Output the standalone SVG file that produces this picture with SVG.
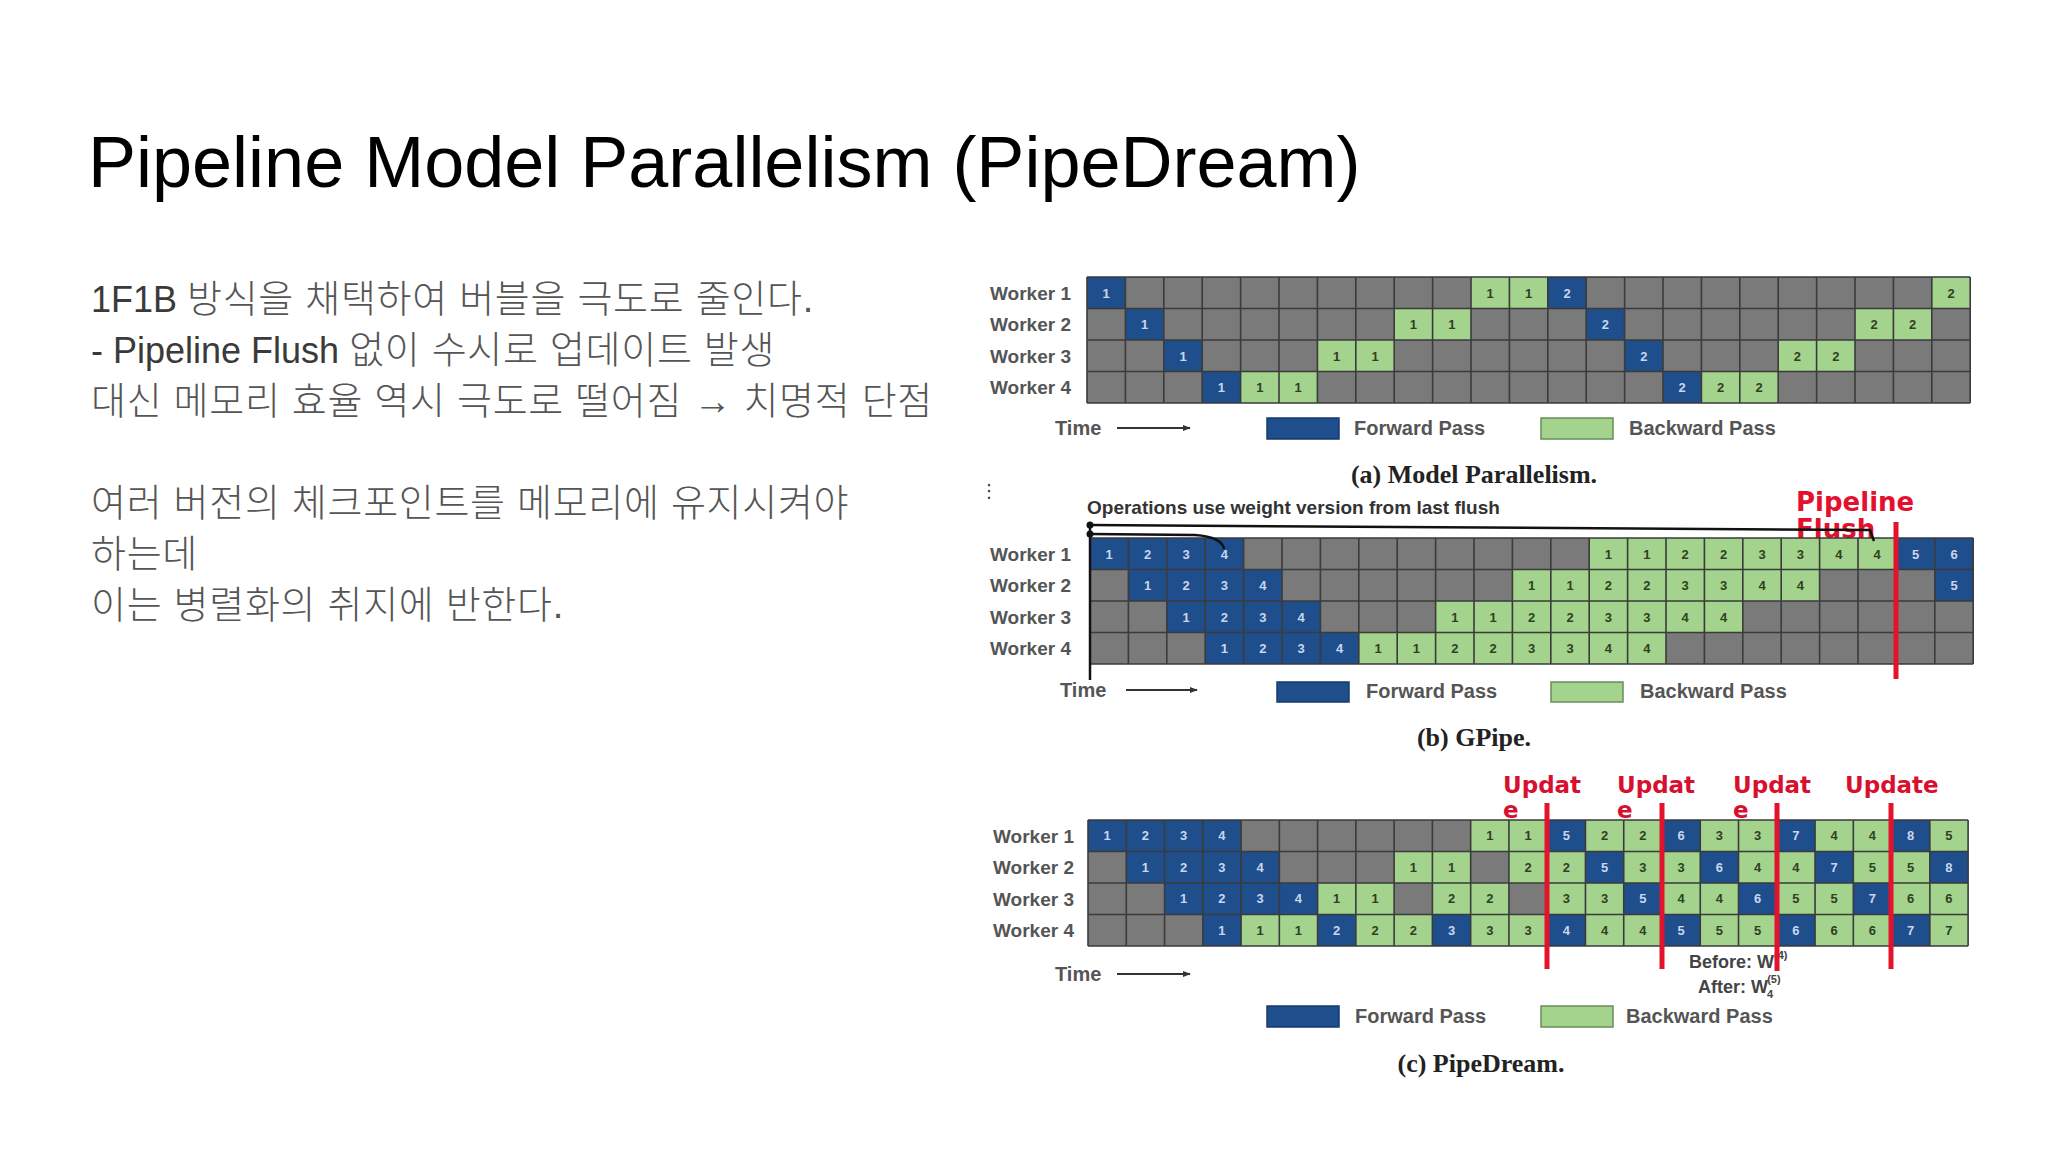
<svg xmlns="http://www.w3.org/2000/svg" xmlns:xlink="http://www.w3.org/1999/xlink" width="2048" height="1152" viewBox="0 0 2048 1152">
<style>
.f{fill:#1f4e8c}
.b{fill:#a3d38c}
.nf{font:bold 13px "Liberation Sans",Arial,sans-serif;fill:#c9d6ee;text-anchor:middle}
.nb{font:bold 13px "Liberation Sans",Arial,sans-serif;fill:#2f4024;text-anchor:middle}
.wk{font:bold 19px "Liberation Sans",Arial,sans-serif;fill:#555}
.lg{font:bold 20px "Liberation Sans",Arial,sans-serif;fill:#555}
.lf{fill:#1f4e8c;stroke:#173b6b;stroke-width:1.5}
.lb{fill:#a3d38c;stroke:#6a8c58;stroke-width:1.5}
.cap{font:bold 26px "Liberation Serif","Times New Roman",serif;fill:#222;text-anchor:middle}
.red{stroke:#e3122d;stroke-width:5}
.rt{font:bold 23px "DejaVu Sans",sans-serif;fill:#d8102f}
.rt2{font:bold 26px "DejaVu Sans",sans-serif;fill:#e3102e}
.kr{font-family:"Liberation Sans","Noto Sans CJK KR",sans-serif;font-size:38px;font-weight:300;letter-spacing:0.7px;fill:#555}
.lat{font-size:36px;letter-spacing:0;fill:#3a3a3a;font-weight:normal}
.tarr{stroke:#333;stroke-width:2;marker-end:url(#ah)}
</style>
<defs>
<marker id="ah" viewBox="0 0 10 10" refX="9" refY="5" markerWidth="4" markerHeight="4" orient="auto"><path d="M0 1L10 5L0 9z" fill="#333"/></marker>
<rect id="bg" width="883.2" height="126" fill="#7a7a7a"/>
<path id="gl" fill="none" stroke="#3b3b3b" stroke-width="1.6" d="M0 0V126M38.4 0V126M76.8 0V126M115.2 0V126M153.6 0V126M192 0V126M230.4 0V126M268.8 0V126M307.2 0V126M345.6 0V126M384 0V126M422.4 0V126M460.8 0V126M499.2 0V126M537.6 0V126M576 0V126M614.4 0V126M652.8 0V126M691.2 0V126M729.6 0V126M768 0V126M806.4 0V126M844.8 0V126M883.2 0V126M0 0H883.2M0 31.5H883.2M0 63H883.2M0 94.5H883.2M0 126H883.2"/>
</defs>
<rect width="2048" height="1152" fill="#fff"/>

<g id="title"><text x="88" y="187" font-family="Liberation Sans,Arial,sans-serif" font-size="72" fill="#000">Pipeline Model Parallelism (PipeDream)</text></g>

<g id="body-text" class="kr">
<text x="91" y="312"><tspan class="lat">1F1B </tspan>방식을 채택하여 버블을 극도로 줄인다.</text>
<text x="91" y="363"><tspan class="lat">- Pipeline Flush </tspan>없이 수시로 업데이트 발생</text>
<text x="91" y="414">대신 메모리 효율 역시 극도로 떨어짐 → 치명적 단점</text>
<text x="91" y="516">여러 버전의 체크포인트를 메모리에 유지시켜야</text>
<text x="91" y="567">하는데</text>
<text x="91" y="618">이는 병렬화의 취지에 반한다.</text>
</g>

<!-- (a) Model Parallelism -->
<g id="grid-a" transform="translate(1087,277)">
<use xlink:href="#bg"/>
<rect class="f" x="0" y="0" width="38.4" height="31.5"/><rect class="b" x="384" y="0" width="76.8" height="31.5"/><rect class="f" x="460.8" y="0" width="38.4" height="31.5"/><rect class="b" x="844.8" y="0" width="38.4" height="31.5"/>
<rect class="f" x="38.4" y="31.5" width="38.4" height="31.5"/><rect class="b" x="307.2" y="31.5" width="76.8" height="31.5"/><rect class="f" x="499.2" y="31.5" width="38.4" height="31.5"/><rect class="b" x="768" y="31.5" width="76.8" height="31.5"/>
<rect class="f" x="76.8" y="63" width="38.4" height="31.5"/><rect class="b" x="230.4" y="63" width="76.8" height="31.5"/><rect class="f" x="537.6" y="63" width="38.4" height="31.5"/><rect class="b" x="691.2" y="63" width="76.8" height="31.5"/>
<rect class="f" x="115.2" y="94.5" width="38.4" height="31.5"/><rect class="b" x="153.6" y="94.5" width="76.8" height="31.5"/><rect class="f" x="576" y="94.5" width="38.4" height="31.5"/><rect class="b" x="614.4" y="94.5" width="76.8" height="31.5"/>
<use xlink:href="#gl"/>
<text class="nf" x="19.2" y="20.5">1</text><text class="nb" x="403.2" y="20.5">1</text><text class="nb" x="441.6" y="20.5">1</text><text class="nf" x="480" y="20.5">2</text><text class="nb" x="864" y="20.5">2</text>
<text class="nf" x="57.6" y="52">1</text><text class="nb" x="326.4" y="52">1</text><text class="nb" x="364.8" y="52">1</text><text class="nf" x="518.4" y="52">2</text><text class="nb" x="787.2" y="52">2</text><text class="nb" x="825.6" y="52">2</text>
<text class="nf" x="96" y="83.5">1</text><text class="nb" x="249.6" y="83.5">1</text><text class="nb" x="288" y="83.5">1</text><text class="nf" x="556.8" y="83.5">2</text><text class="nb" x="710.4" y="83.5">2</text><text class="nb" x="748.8" y="83.5">2</text>
<text class="nf" x="134.4" y="115">1</text><text class="nb" x="172.8" y="115">1</text><text class="nb" x="211.2" y="115">1</text><text class="nf" x="595.2" y="115">2</text><text class="nb" x="633.6" y="115">2</text><text class="nb" x="672" y="115">2</text>
</g>
<g id="labels-a">
<text class="wk" x="990" y="300">Worker 1</text><text class="wk" x="990" y="331">Worker 2</text><text class="wk" x="990" y="363">Worker 3</text><text class="wk" x="990" y="394">Worker 4</text>
<text class="lg" x="1055" y="435">Time</text>
<rect class="lf" x="1267" y="418" width="72" height="21"/><text class="lg" x="1354" y="435">Forward Pass</text>
<rect class="lb" x="1541" y="418" width="72" height="21"/><text class="lg" x="1629" y="435">Backward Pass</text>
<text class="cap" x="1474" y="483">(a) Model Parallelism.</text>
</g>

<!-- (b) GPipe -->
<g id="flush-label">
<text class="rt2" x="1796" y="511">Pipeline</text>
<text class="rt2" x="1796" y="538">Flush</text>
</g>
<g id="grid-b" transform="translate(1090,538)">
<use xlink:href="#bg"/>
<rect class="f" x="0" y="0" width="153.6" height="31.5"/><rect class="b" x="499.2" y="0" width="307.2" height="31.5"/><rect class="f" x="806.4" y="0" width="76.8" height="31.5"/>
<rect class="f" x="38.4" y="31.5" width="153.6" height="31.5"/><rect class="b" x="422.4" y="31.5" width="307.2" height="31.5"/><rect class="f" x="844.8" y="31.5" width="38.4" height="31.5"/>
<rect class="f" x="76.8" y="63" width="153.6" height="31.5"/><rect class="b" x="345.6" y="63" width="307.2" height="31.5"/>
<rect class="f" x="115.2" y="94.5" width="153.6" height="31.5"/><rect class="b" x="268.8" y="94.5" width="307.2" height="31.5"/>
<use xlink:href="#gl"/>
<text class="nf" x="19.2" y="20.5">1</text><text class="nf" x="57.6" y="20.5">2</text><text class="nf" x="96" y="20.5">3</text><text class="nf" x="134.4" y="20.5">4</text>
<text class="nb" x="518.4" y="20.5">1</text><text class="nb" x="556.8" y="20.5">1</text><text class="nb" x="595.2" y="20.5">2</text><text class="nb" x="633.6" y="20.5">2</text><text class="nb" x="672" y="20.5">3</text><text class="nb" x="710.4" y="20.5">3</text><text class="nb" x="748.8" y="20.5">4</text><text class="nb" x="787.2" y="20.5">4</text>
<text class="nf" x="825.6" y="20.5">5</text><text class="nf" x="864" y="20.5">6</text>
<text class="nf" x="57.6" y="52">1</text><text class="nf" x="96" y="52">2</text><text class="nf" x="134.4" y="52">3</text><text class="nf" x="172.8" y="52">4</text>
<text class="nb" x="441.6" y="52">1</text><text class="nb" x="480" y="52">1</text><text class="nb" x="518.4" y="52">2</text><text class="nb" x="556.8" y="52">2</text><text class="nb" x="595.2" y="52">3</text><text class="nb" x="633.6" y="52">3</text><text class="nb" x="672" y="52">4</text><text class="nb" x="710.4" y="52">4</text>
<text class="nf" x="864" y="52">5</text>
<text class="nf" x="96" y="83.5">1</text><text class="nf" x="134.4" y="83.5">2</text><text class="nf" x="172.8" y="83.5">3</text><text class="nf" x="211.2" y="83.5">4</text>
<text class="nb" x="364.8" y="83.5">1</text><text class="nb" x="403.2" y="83.5">1</text><text class="nb" x="441.6" y="83.5">2</text><text class="nb" x="480" y="83.5">2</text><text class="nb" x="518.4" y="83.5">3</text><text class="nb" x="556.8" y="83.5">3</text><text class="nb" x="595.2" y="83.5">4</text><text class="nb" x="633.6" y="83.5">4</text>
<text class="nf" x="134.4" y="115">1</text><text class="nf" x="172.8" y="115">2</text><text class="nf" x="211.2" y="115">3</text><text class="nf" x="249.6" y="115">4</text>
<text class="nb" x="288" y="115">1</text><text class="nb" x="326.4" y="115">1</text><text class="nb" x="364.8" y="115">2</text><text class="nb" x="403.2" y="115">2</text><text class="nb" x="441.6" y="115">3</text><text class="nb" x="480" y="115">3</text><text class="nb" x="518.4" y="115">4</text><text class="nb" x="556.8" y="115">4</text>
</g>
<g id="labels-b">
<text x="980" y="497" font-family="DejaVu Sans,sans-serif" font-size="18" fill="#333">⋮</text>
<text x="1087" y="514" font-family="Liberation Sans,Arial,sans-serif" font-weight="bold" font-size="19" fill="#333">Operations use weight version from last flush</text>
<text class="wk" x="990" y="561">Worker 1</text><text class="wk" x="990" y="592">Worker 2</text><text class="wk" x="990" y="624">Worker 3</text><text class="wk" x="990" y="655">Worker 4</text>
<text class="lg" x="1060" y="697">Time</text>
<rect class="lf" x="1277" y="682" width="72" height="20"/><text class="lg" x="1366" y="698">Forward Pass</text>
<rect class="lb" x="1551" y="682" width="72" height="20"/><text class="lg" x="1640" y="698">Backward Pass</text>
<text class="cap" x="1474" y="746">(b) GPipe.</text>
</g>

<!-- (c) PipeDream -->
<g id="update-labels">
<text class="rt" x="1503" y="793">Updat</text><text class="rt" x="1503" y="818">e</text>
<text class="rt" x="1617" y="793">Updat</text><text class="rt" x="1617" y="818">e</text>
<text class="rt" x="1733" y="793">Updat</text><text class="rt" x="1733" y="818">e</text>
<text class="rt" x="1845" y="793">Update</text>
</g>
<g id="grid-c" transform="translate(1088,820) scale(0.9965,1)">
<use xlink:href="#bg"/>
<rect class="f" x="0" y="0" width="153.6" height="31.5"/><rect class="b" x="384" y="0" width="76.8" height="31.5"/><rect class="f" x="460.8" y="0" width="38.4" height="31.5"/><rect class="b" x="499.2" y="0" width="76.8" height="31.5"/><rect class="f" x="576" y="0" width="38.4" height="31.5"/><rect class="b" x="614.4" y="0" width="76.8" height="31.5"/><rect class="f" x="691.2" y="0" width="38.4" height="31.5"/><rect class="b" x="729.6" y="0" width="76.8" height="31.5"/><rect class="f" x="806.4" y="0" width="38.4" height="31.5"/><rect class="b" x="844.8" y="0" width="38.4" height="31.5"/>
<rect class="f" x="38.4" y="31.5" width="153.6" height="31.5"/><rect class="b" x="307.2" y="31.5" width="76.8" height="31.5"/><rect class="b" x="422.4" y="31.5" width="76.8" height="31.5"/><rect class="f" x="499.2" y="31.5" width="38.4" height="31.5"/><rect class="b" x="537.6" y="31.5" width="76.8" height="31.5"/><rect class="f" x="614.4" y="31.5" width="38.4" height="31.5"/><rect class="b" x="652.8" y="31.5" width="76.8" height="31.5"/><rect class="f" x="729.6" y="31.5" width="38.4" height="31.5"/><rect class="b" x="768" y="31.5" width="76.8" height="31.5"/><rect class="f" x="844.8" y="31.5" width="38.4" height="31.5"/>
<rect class="f" x="76.8" y="63" width="153.6" height="31.5"/><rect class="b" x="230.4" y="63" width="76.8" height="31.5"/><rect class="b" x="345.6" y="63" width="76.8" height="31.5"/><rect class="b" x="460.8" y="63" width="76.8" height="31.5"/><rect class="f" x="537.6" y="63" width="38.4" height="31.5"/><rect class="b" x="576" y="63" width="76.8" height="31.5"/><rect class="f" x="652.8" y="63" width="38.4" height="31.5"/><rect class="b" x="691.2" y="63" width="76.8" height="31.5"/><rect class="f" x="768" y="63" width="38.4" height="31.5"/><rect class="b" x="806.4" y="63" width="76.8" height="31.5"/>
<rect class="f" x="115.2" y="94.5" width="38.4" height="31.5"/><rect class="b" x="153.6" y="94.5" width="76.8" height="31.5"/><rect class="f" x="230.4" y="94.5" width="38.4" height="31.5"/><rect class="b" x="268.8" y="94.5" width="76.8" height="31.5"/><rect class="f" x="345.6" y="94.5" width="38.4" height="31.5"/><rect class="b" x="384" y="94.5" width="76.8" height="31.5"/><rect class="f" x="460.8" y="94.5" width="38.4" height="31.5"/><rect class="b" x="499.2" y="94.5" width="76.8" height="31.5"/><rect class="f" x="576" y="94.5" width="38.4" height="31.5"/><rect class="b" x="614.4" y="94.5" width="76.8" height="31.5"/><rect class="f" x="691.2" y="94.5" width="38.4" height="31.5"/><rect class="b" x="729.6" y="94.5" width="76.8" height="31.5"/><rect class="f" x="806.4" y="94.5" width="38.4" height="31.5"/><rect class="b" x="844.8" y="94.5" width="38.4" height="31.5"/>
<use xlink:href="#gl"/>
<text class="nf" x="19.2" y="20.5">1</text><text class="nf" x="57.6" y="20.5">2</text><text class="nf" x="96" y="20.5">3</text><text class="nf" x="134.4" y="20.5">4</text><text class="nb" x="403.2" y="20.5">1</text><text class="nb" x="441.6" y="20.5">1</text><text class="nf" x="480" y="20.5">5</text><text class="nb" x="518.4" y="20.5">2</text><text class="nb" x="556.8" y="20.5">2</text><text class="nf" x="595.2" y="20.5">6</text><text class="nb" x="633.6" y="20.5">3</text><text class="nb" x="672" y="20.5">3</text><text class="nf" x="710.4" y="20.5">7</text><text class="nb" x="748.8" y="20.5">4</text><text class="nb" x="787.2" y="20.5">4</text><text class="nf" x="825.6" y="20.5">8</text><text class="nb" x="864" y="20.5">5</text>
<text class="nf" x="57.6" y="52">1</text><text class="nf" x="96" y="52">2</text><text class="nf" x="134.4" y="52">3</text><text class="nf" x="172.8" y="52">4</text><text class="nb" x="326.4" y="52">1</text><text class="nb" x="364.8" y="52">1</text><text class="nb" x="441.6" y="52">2</text><text class="nb" x="480" y="52">2</text><text class="nf" x="518.4" y="52">5</text><text class="nb" x="556.8" y="52">3</text><text class="nb" x="595.2" y="52">3</text><text class="nf" x="633.6" y="52">6</text><text class="nb" x="672" y="52">4</text><text class="nb" x="710.4" y="52">4</text><text class="nf" x="748.8" y="52">7</text><text class="nb" x="787.2" y="52">5</text><text class="nb" x="825.6" y="52">5</text><text class="nf" x="864" y="52">8</text>
<text class="nf" x="96" y="83.5">1</text><text class="nf" x="134.4" y="83.5">2</text><text class="nf" x="172.8" y="83.5">3</text><text class="nf" x="211.2" y="83.5">4</text><text class="nb" x="249.6" y="83.5">1</text><text class="nb" x="288" y="83.5">1</text><text class="nb" x="364.8" y="83.5">2</text><text class="nb" x="403.2" y="83.5">2</text><text class="nb" x="480" y="83.5">3</text><text class="nb" x="518.4" y="83.5">3</text><text class="nf" x="556.8" y="83.5">5</text><text class="nb" x="595.2" y="83.5">4</text><text class="nb" x="633.6" y="83.5">4</text><text class="nf" x="672" y="83.5">6</text><text class="nb" x="710.4" y="83.5">5</text><text class="nb" x="748.8" y="83.5">5</text><text class="nf" x="787.2" y="83.5">7</text><text class="nb" x="825.6" y="83.5">6</text><text class="nb" x="864" y="83.5">6</text>
<text class="nf" x="134.4" y="115">1</text><text class="nb" x="172.8" y="115">1</text><text class="nb" x="211.2" y="115">1</text><text class="nf" x="249.6" y="115">2</text><text class="nb" x="288" y="115">2</text><text class="nb" x="326.4" y="115">2</text><text class="nf" x="364.8" y="115">3</text><text class="nb" x="403.2" y="115">3</text><text class="nb" x="441.6" y="115">3</text><text class="nf" x="480" y="115">4</text><text class="nb" x="518.4" y="115">4</text><text class="nb" x="556.8" y="115">4</text><text class="nf" x="595.2" y="115">5</text><text class="nb" x="633.6" y="115">5</text><text class="nb" x="672" y="115">5</text><text class="nf" x="710.4" y="115">6</text><text class="nb" x="748.8" y="115">6</text><text class="nb" x="787.2" y="115">6</text><text class="nf" x="825.6" y="115">7</text><text class="nb" x="864" y="115">7</text>
</g>
<g id="labels-c">
<text class="wk" x="993" y="843">Worker 1</text><text class="wk" x="993" y="874">Worker 2</text><text class="wk" x="993" y="906">Worker 3</text><text class="wk" x="993" y="937">Worker 4</text>
<text class="lg" x="1055" y="981">Time</text>
<g font-family="Liberation Sans,Arial,sans-serif" font-weight="bold" fill="#444">
<text x="1689" y="968" font-size="18">Before: W<tspan font-size="11" dy="-9">(4)</tspan></text>
<text x="1698" y="993" font-size="18">After: W<tspan font-size="11" dx="-1" dy="5">4</tspan><tspan font-size="11" dx="-6" dy="-15">(5)</tspan></text>
</g>
<rect class="lf" x="1267" y="1006" width="72" height="21"/><text class="lg" x="1355" y="1023">Forward Pass</text>
<rect class="lb" x="1541" y="1006" width="72" height="21"/><text class="lg" x="1626" y="1023">Backward Pass</text>
<text class="cap" x="1481" y="1072">(c) PipeDream.</text>
</g>

<g id="connectors">
<line class="tarr" x1="1117" y1="428" x2="1190" y2="428"/>
<line class="tarr" x1="1126" y1="690" x2="1197" y2="690"/>
<line class="tarr" x1="1117" y1="974" x2="1190" y2="974"/>
<g fill="none" stroke="#111" stroke-width="2.5">
<path d="M1090 525L1870 530L1874 541"/>
<path d="M1090 534L1195 535Q1222 537 1224 549"/>
<path d="M1090 523V680"/>
</g>
<circle cx="1090" cy="525" r="3.5" fill="#111"/><circle cx="1090" cy="534" r="3.5" fill="#111"/>
<line class="red" x1="1896" y1="522" x2="1896" y2="679"/>
<line class="red" x1="1547" y1="803" x2="1547" y2="969"/>
<line class="red" x1="1662" y1="803" x2="1662" y2="969"/>
<line class="red" x1="1777" y1="803" x2="1777" y2="971"/>
<line class="red" x1="1891" y1="803" x2="1891" y2="969"/>
</g>
</svg>
